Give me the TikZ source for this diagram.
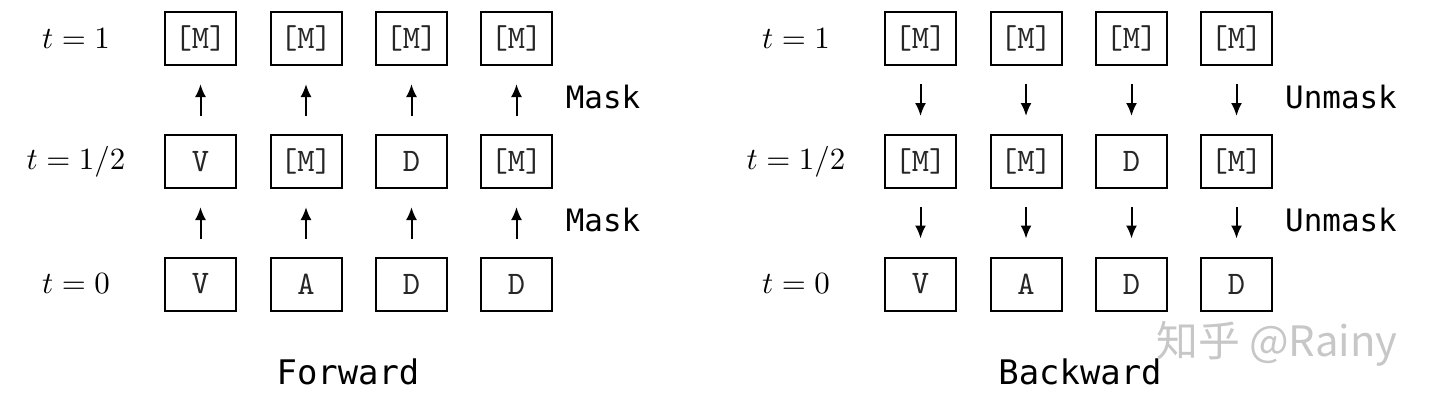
\documentclass[tikz,border=0pt]{standalone}
\usepackage{fontspec}
\usepackage{graphicx}
\usetikzlibrary{arrows.meta}
\newfontfamily\lblfont{DejaVu Sans Mono}
\newfontfamily\cjkfont{Noto Sans CJK SC}
\newcommand{\tokt}[1]{\scalebox{3.3}{\ttfamily\normalsize #1}}
\tikzset{
  tok/.style={draw, line width=2bp, minimum width=71bp, minimum height=53bp, inner sep=0pt,
    text=black!85},
  tlab/.style={font=\normalsize, scale=3.1, inner sep=0pt},
  side/.style={font=\lblfont\fontsize{31}{31}\selectfont, inner sep=0pt},
  ttl/.style={font=\lblfont\fontsize{34}{34}\selectfont, inner sep=0pt},
  arr/.style={line width=2bp, -{Latex[length=13bp,width=11bp]}, shorten <=18bp, shorten >=18bp},
}
\begin{document}
\begin{tikzpicture}[x=1bp,y=-1bp]
\useasboundingbox (0,0) rectangle (1440,407);
% ---------- Forward ----------
\foreach \i/\x in {1/200.5,2/306,3/411.5,4/516.5}{
  \node[tok] (fa\i) at (\x,38.5) {\tokt{[M]}};
}
\node[tok] (fb1) at (200.5,161.5) {\tokt{V}};
\node[tok] (fb2) at (306,161.5) {\tokt{[M]}};
\node[tok] (fb3) at (411.5,161.5) {\tokt{D}};
\node[tok] (fb4) at (516.5,161.5) {\tokt{[M]}};
\node[tok] (fc1) at (200.5,284) {\tokt{V}};
\node[tok] (fc2) at (306,284) {\tokt{A}};
\node[tok] (fc3) at (411.5,284) {\tokt{D}};
\node[tok] (fc4) at (516.5,284) {\tokt{D}};
\foreach \i in {1,2,3,4}{
  \draw[arr] (fb\i.north) -- (fa\i.south);
  \draw[arr] (fc\i.north) -- (fb\i.south);
}
\node[tlab] (fl1) at (76,38.5) {$t=1$};
\node[tlab] (fl2) at (76,161.5) {$t=1/2$};
\node[tlab] (fl3) at (76,284) {$t=0$};
\node[side] (fm1) at (603,97) {Mask};
\node[side] (fm2) at (603,220) {Mask};
\node[ttl] (ftitle) at (348,372) {Forward};
% ---------- Backward ----------
\foreach \i/\x in {1/920.5,2/1026,3/1131.5,4/1236.5}{
  \node[tok] (ba\i) at (\x,38.5) {\tokt{[M]}};
}
\node[tok] (bb1) at (920.5,161.5) {\tokt{[M]}};
\node[tok] (bb2) at (1026,161.5) {\tokt{[M]}};
\node[tok] (bb3) at (1131.5,161.5) {\tokt{D}};
\node[tok] (bb4) at (1236.5,161.5) {\tokt{[M]}};
\node[tok] (bc1) at (920.5,284) {\tokt{V}};
\node[tok] (bc2) at (1026,284) {\tokt{A}};
\node[tok] (bc3) at (1131.5,284) {\tokt{D}};
\node[tok] (bc4) at (1236.5,284) {\tokt{D}};
\foreach \i in {1,2,3,4}{
  \draw[arr] (ba\i.south) -- (bb\i.north);
  \draw[arr] (bb\i.south) -- (bc\i.north);
}
\node[tlab] (bl1) at (796,38.5) {$t=1$};
\node[tlab] (bl2) at (796,161.5) {$t=1/2$};
\node[tlab] (bl3) at (796,284) {$t=0$};
\node[side] (bm1) at (1341,97) {Unmask};
\node[side] (bm2) at (1341,220) {Unmask};
\node[ttl] (btitle) at (1080,372) {Backward};
% watermark
\node[font=\cjkfont\fontsize{42}{42}\selectfont, text=black!22, inner sep=0pt] (wm) at (1277,344) {知乎 @Rainy};
\end{tikzpicture}
\end{document}
